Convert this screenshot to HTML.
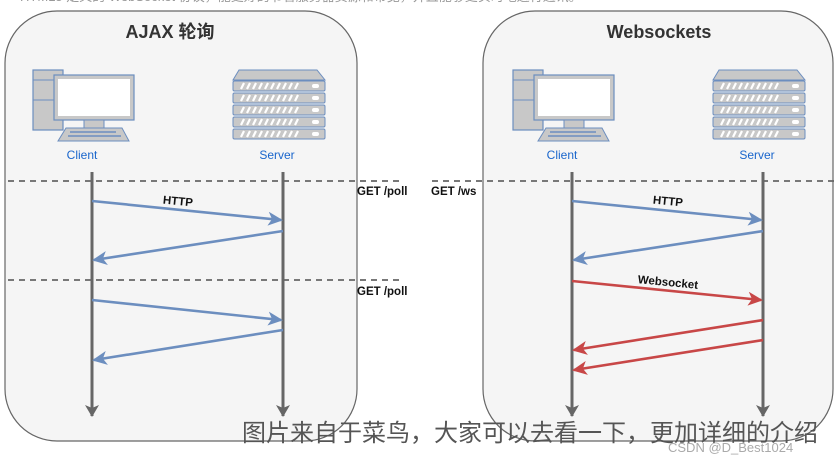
<!DOCTYPE html>
<html><head><meta charset="utf-8"><style>
html,body{margin:0;padding:0;background:#fff;}
svg{display:block;}
</style></head><body>
<svg width="837" height="463" viewBox="0 0 837 463" xmlns="http://www.w3.org/2000/svg" font-family="Liberation Sans, Noto Sans CJK SC, sans-serif">
<defs>
<marker id="ab" markerWidth="16" markerHeight="14" refX="13" refY="7" orient="auto" markerUnits="userSpaceOnUse"><path d="M0,0 L15,7 L0,14 L4,7 Z" fill="#6c8ebf"/></marker>
<marker id="ar" markerWidth="16" markerHeight="14" refX="13" refY="7" orient="auto" markerUnits="userSpaceOnUse"><path d="M0,0 L15,7 L0,14 L4,7 Z" fill="#c84747"/></marker>
<marker id="ag" markerWidth="14" markerHeight="14" refX="11" refY="7" orient="auto" markerUnits="userSpaceOnUse"><path d="M0,0 L12,7 L0,14 L3,7 Z" fill="#666"/></marker>
<g id="pc">
<rect x="0" y="0" width="30" height="60" fill="#c8c8c8" stroke="#6c8ebf" stroke-width="1.2"/>
<line x1="0" y1="10" x2="30" y2="10" stroke="#6c8ebf"/><line x1="0" y1="30" x2="30" y2="30" stroke="#6c8ebf"/>
<rect x="21" y="5" width="80" height="45" fill="#c8c8c8" stroke="#6c8ebf" stroke-width="1.2"/>
<rect x="25" y="9" width="72" height="37" fill="#fff"/>
<rect x="51" y="50" width="20" height="8" fill="#c8c8c8" stroke="#6c8ebf"/>
<path d="M33,58 L89,58 L96,71 L25,71 Z" fill="#c8c8c8" stroke="#6c8ebf"/>
<line x1="37" y1="62" x2="83" y2="62" stroke="#6c8ebf" stroke-width="1.5"/><line x1="35" y1="66" x2="88" y2="66" stroke="#6c8ebf" stroke-width="1.5"/>
</g>
<g id="sv">
<path d="M6,0 L84,0 L92,10 L0,10 Z" fill="#c8c8c8" stroke="#6c8ebf"/>
<g id="row"><rect x="0" y="11" width="92" height="10" rx="1.5" fill="#c8c8c8" stroke="#6c8ebf"/>
<path d="M8,19 l3,-6 M14,19 l3,-6 M20,19 l3,-6 M26,19 l3,-6 M32,19 l3,-6 M38,19 l3,-6 M44,19 l3,-6 M50,19 l3,-6 M56,19 l3,-6 M62,19 l3,-6" stroke="#fff" stroke-width="2.2"/>
<rect x="79" y="14" width="7" height="4" rx="2" fill="#fff"/></g>
<use href="#row" y="12"/><use href="#row" y="24"/><use href="#row" y="36"/><use href="#row" y="48"/>
</g>
</defs>
<text x="20" y="1" font-size="13" fill="#999">HTML5 定义的 WebSocket 协议，能更好的节省服务器资源和带宽，并且能够更实时地进行通讯。</text>
<rect x="5" y="11" width="352" height="430" rx="52" fill="#f5f5f5" stroke="#666" stroke-width="1.2"/>
<rect x="483" y="11" width="350" height="430" rx="52" fill="#f5f5f5" stroke="#666" stroke-width="1.2"/>
<text x="170" y="38" font-size="18" font-weight="bold" fill="#333" text-anchor="middle">AJAX 轮询</text>
<text x="659" y="38" font-size="18" font-weight="bold" fill="#333" text-anchor="middle">Websockets</text>
<use href="#pc" x="33" y="70"/><use href="#sv" x="233" y="70"/>
<use href="#pc" x="513" y="70"/><use href="#sv" x="713" y="70"/>
<g font-size="12" fill="#1a66cc" text-anchor="middle">
<text x="82" y="159">Client</text><text x="277" y="159">Server</text>
<text x="562" y="159">Client</text><text x="757" y="159">Server</text></g>
<g stroke="#666" stroke-width="1.8" stroke-dasharray="6,5">
<line x1="8" y1="181" x2="400" y2="181"/><line x1="432" y1="181" x2="837" y2="181"/>
<line x1="8" y1="280" x2="400" y2="280"/></g>
<g stroke="#666" stroke-width="3" marker-end="url(#ag)">
<line x1="92" y1="172" x2="92" y2="416"/><line x1="283" y1="172" x2="283" y2="416"/>
<line x1="572" y1="172" x2="572" y2="416"/><line x1="763" y1="172" x2="763" y2="416"/></g>
<g stroke="#6c8ebf" stroke-width="2.6" marker-end="url(#ab)" fill="none">
<line x1="92" y1="201" x2="281" y2="220"/><line x1="283" y1="231" x2="94" y2="260"/>
<line x1="92" y1="300" x2="281" y2="320"/><line x1="283" y1="330" x2="94" y2="360"/>
<line x1="572" y1="201" x2="761" y2="220"/><line x1="763" y1="231" x2="574" y2="260"/></g>
<g stroke="#c84747" stroke-width="2.6" marker-end="url(#ar)" fill="none">
<line x1="572" y1="281" x2="761" y2="300"/><line x1="763" y1="320" x2="574" y2="350"/><line x1="763" y1="340" x2="574" y2="370"/></g>
<g font-size="11.5" font-weight="bold" fill="#111">
<text x="178" y="205" text-anchor="middle" transform="rotate(5.5 178 201)">HTTP</text>
<text x="668" y="205" text-anchor="middle" transform="rotate(5.5 668 201)">HTTP</text>
<text x="668" y="286" text-anchor="middle" transform="rotate(5.5 668 282)">Websocket</text>
<text x="357" y="195">GET /poll</text><text x="431" y="195">GET /ws</text><text x="357" y="295">GET /poll</text></g>
<text x="242" y="441" font-size="24" fill="#555">图片来自于菜鸟，大家可以去看一下，更加详细的介绍</text>
<text x="668" y="452" font-size="13" fill="#aaa">CSDN @D_Best1024</text>
</svg>
</body></html>
